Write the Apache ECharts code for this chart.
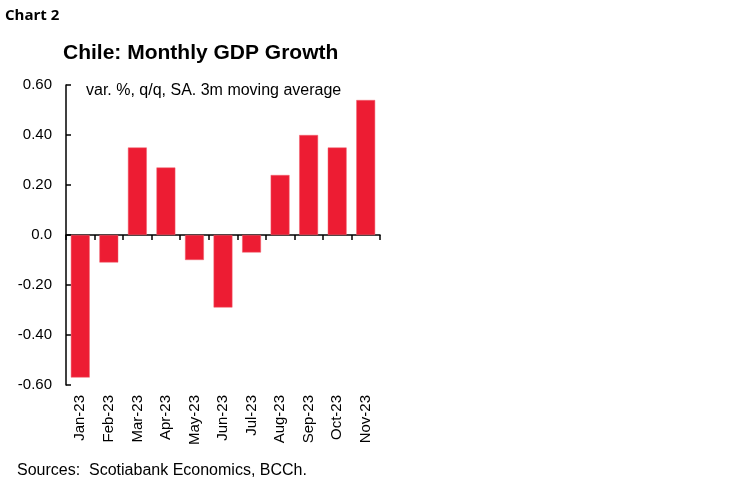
<!DOCTYPE html>
<html>
<head>
<meta charset="utf-8">
<script src="https://cdn.jsdelivr.net/npm/echarts@6/dist/echarts.min.js"></script>
<style>
  html, body { margin: 0; padding: 0; background: #fff; }
  #chart { width: 750px; height: 482px; }
</style>
</head>
<body>
<div id="chart"></div>
<script>
// data
const months = ['Jan-23', 'Feb-23', 'Mar-23', 'Apr-23', 'May-23', 'Jun-23',
                'Jul-23', 'Aug-23', 'Sep-23', 'Oct-23', 'Nov-23'];
const growth = [-0.57, -0.11, 0.35, 0.27, -0.10, -0.29, -0.07, 0.24, 0.40, 0.35, 0.54];
const yTickLabels = { '-0.6': '-0.60', '-0.4': '-0.40', '-0.2': '-0.20', '0': '0.0',
                      '0.2': '0.20', '0.4': '0.40', '0.6': '0.60' };

const font = '"Liberation Sans", Arial, sans-serif';
const chart = echarts.init(document.getElementById('chart'));

chart.setOption({
    animation: false,
    backgroundColor: '#fff',
    title: [
        { text: 'Chart 2', left: 5, top: 8, padding: 0,
          textStyle: { fontFamily: '"Open Sans", sans-serif', fontWeight: 'bold', fontSize: 15, color: '#000' } },
        { text: 'Chile: Monthly GDP Growth', left: 63, top: 43, padding: 0,
          textStyle: { fontFamily: font, fontWeight: 'bold', fontSize: 21, color: '#000' } },
        { text: 'var. %, q/q, SA. 3m moving average', left: 86, top: 83, padding: 0,
          textStyle: { fontFamily: font, fontWeight: 'normal', fontSize: 16, color: '#000' } },
        { text: 'Sources:  Scotiabank Economics, BCCh.', left: 17, top: 463, padding: 0,
          textStyle: { fontFamily: font, fontWeight: 'normal', fontSize: 16, color: '#000' } }
    ],
    grid: { left: 66, top: 85, right: 370, bottom: 97, containLabel: false },
    xAxis: [
        {   // axis line on zero with ticks between categories
            type: 'category',
            data: months,
            axisLine: { onZero: true, lineStyle: { color: '#000', width: 1.5 } },
            axisTick: { show: true, interval: 0, inside: false, length: 5, alignWithLabel: false,
                        lineStyle: { color: '#000', width: 1.5 } },
            axisLabel: { show: false },
            splitLine: { show: false }
        },
        {   // labels at bottom
            type: 'category',
            data: months,
            position: 'bottom',
            axisLine: { show: false, onZero: false },
            axisTick: { show: false },
            axisLabel: { interval: 0, rotate: 90, margin: 10, fontFamily: font, fontSize: 15, color: '#000' }
        }
    ],
    yAxis: {
        type: 'value',
        min: -0.6,
        max: 0.6,
        interval: 0.2,
        axisLine: { show: true, lineStyle: { color: '#000', width: 1.5 } },
        axisTick: { show: true, inside: true, length: 5, lineStyle: { color: '#000', width: 1.5 } },
        splitLine: { show: false },
        axisLabel: {
            margin: 14, fontFamily: font, fontSize: 15, color: '#000',
            formatter: function (v) {
                const k = String(Math.round(v * 10) / 10);
                return yTickLabels[k] !== undefined ? yTickLabels[k] : v.toFixed(2);
            }
        }
    },
    series: [{
        type: 'bar',
        xAxisIndex: 0,
        data: growth,
        barCategoryGap: '34%',
        itemStyle: { color: '#ED1C33', borderColor: '#F0606E', borderWidth: 0.5 }
    }]
});
</script>
</body>
</html>
